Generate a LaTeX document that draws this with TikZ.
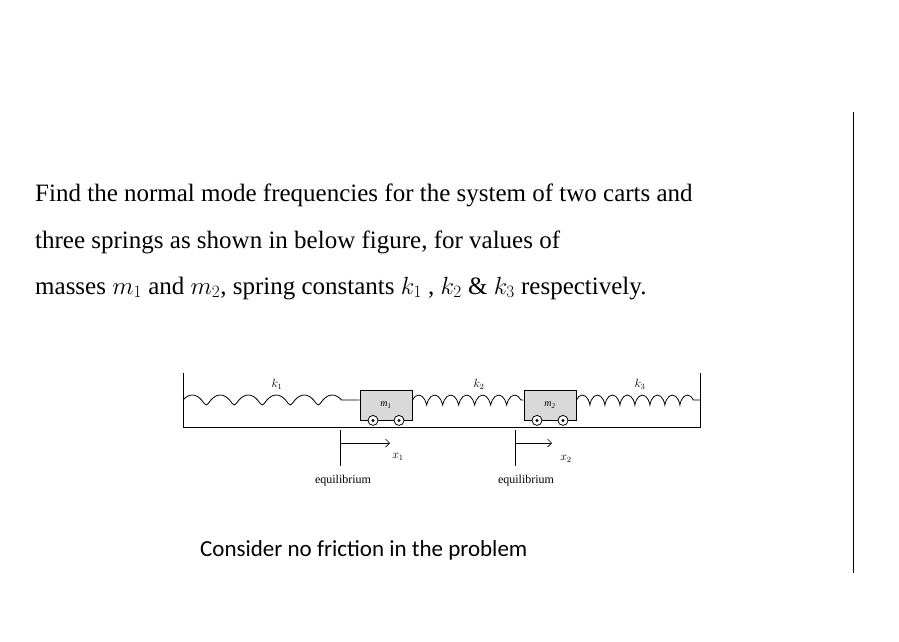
\documentclass[tikz,border=0pt]{standalone}
\usepackage{fontspec}
\setmainfont{Liberation Serif}
\newfontfamily\calib{Carlito}
\usetikzlibrary{decorations.pathmorphing,arrows.meta}
\begin{document}
\begin{tikzpicture}[x=1pt,y=-1pt,
  txt/.style={anchor=base west,inner sep=0,font=\fontsize{25}{30}\selectfont},
  lab/.style={inner sep=0,font=\fontsize{12}{14}\selectfont},
  spr/.style={decorate,decoration={coil,amplitude=5pt,segment length=#1,aspect=0.45},line width=0.8pt},
  cart/.style={draw,fill=gray!30,line width=0.8pt,minimum width=52pt,minimum height=30pt,inner sep=0}]
\useasboundingbox (0,0) rectangle (899,641);
\draw[line width=0.8pt] (853,112) -- (853,573);
\node[txt] (l1) at (35,201) {Find the normal mode frequencies for the system of two carts and};
\node[txt] (l2) at (35,248) {three springs as shown in below figure, for values of};
\node[txt] (l3) at (35,294) {masses $m_1$ and $m_2$, spring constants $k_1$ , $k_2$ \& $k_3$ respectively.};
\node[anchor=base west,inner sep=0,font=\calib\fontsize{23}{28}\selectfont] (c) at (200,556) {Consider no friction in the problem};
% ground
\draw[line width=0.9pt] (183,373) -- (183,427) -- (700,427) -- (700,373);
\coordinate (wl) at (183,400); \coordinate (wr) at (700,400);
\node[cart] (m1) at (386,405) {\itshape m\textsubscript{1}};
\node[cart] (m2) at (550,405) {\itshape m\textsubscript{2}};
\foreach \c in {m1,m2}{
  \draw[fill=white,line width=0.8pt] ([xshift=-13pt]\c.south) circle (5pt);
  \draw[fill=white,line width=0.8pt] ([xshift=13pt]\c.south) circle (5pt);
  \fill ([xshift=-13pt]\c.south) circle (1.6pt);
  \fill ([xshift=13pt]\c.south) circle (1.6pt);}
\draw[spr=28pt] (wl) -- (m1.west|-wl);
\draw[spr=16pt] (m1.east|-wl) -- (m2.west|-wl);
\draw[spr=15pt] (m2.east|-wl) -- (wr);
\node[lab] (k1) at (277,384) {$k_1$};
\node[lab] (k2) at (479,384) {$k_2$};
\node[lab] (k3) at (640,384) {$k_3$};
\coordinate (e1t) at (340,430); \coordinate (e1b) at (340,466);
\coordinate (e2t) at (515,430); \coordinate (e2b) at (515,466);
\draw[line width=0.7pt] (e1t) -- (e1b); \draw[line width=0.7pt] (e2t) -- (e2b);
\coordinate (a1) at (390,443); \coordinate (a2) at (552,443);
\draw[-{Straight Barb[length=4pt]},line width=0.7pt] (e1t|-a1) -- (a1);
\draw[-{Straight Barb[length=4pt]},line width=0.7pt] (e2t|-a2) -- (a2);
\node[lab] (x1) at (398,457) {$x_1$};
\node[lab] (x2) at (566,459) {$x_2$};
\node[lab] (q1) at (343,481) {equilibrium};
\node[lab] (q2) at (526,481) {equilibrium};
\end{tikzpicture}
\end{document}
